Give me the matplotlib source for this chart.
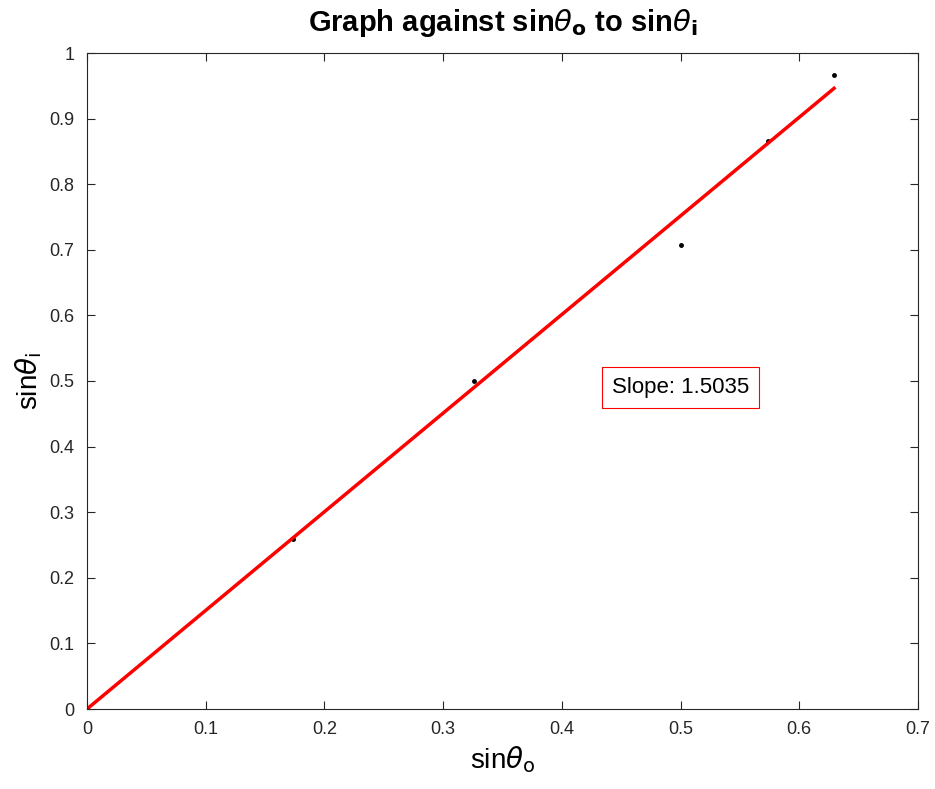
import matplotlib
matplotlib.use("Agg")
import matplotlib.pyplot as plt
import numpy as np

sin_o = np.array([0.0, 0.1736, 0.3256, 0.5000, 0.5736, 0.6293])
sin_i = np.array([0.0, 0.2588, 0.5000, 0.7071, 0.8660, 0.9659])
slope = 1.5035

plt.rcParams['font.family'] = ['Liberation Sans', 'DejaVu Sans']
plt.rcParams['mathtext.fontset'] = 'dejavusans'

fig = plt.figure(figsize=(9.35, 7.89), dpi=100)
ax = fig.add_axes([87/935, 1 - 709/789, (918-87)/935, (709-53)/789])

ax.plot(sin_o, sin_i, 'k.', markersize=5)
ax.plot(sin_o, slope * sin_o, color='red', linewidth=2.5)

ax.set_xlim(0, 0.7)
ax.set_ylim(0, 1)
ax.set_xticks(np.arange(0, 0.71, 0.1))
ax.set_xticklabels(['0', '0.1', '0.2', '0.3', '0.4', '0.5', '0.6', '0.7'])
ax.set_yticks(np.arange(0, 1.01, 0.1))
ax.set_yticklabels(['0', '0.1', '0.2', '0.3', '0.4', '0.5', '0.6', '0.7', '0.8', '0.9', '1'])
ax.tick_params(direction='in', top=True, right=True, labelsize=13, length=6,
               colors='#262626', pad=9)
for s in ax.spines.values():
    s.set_color('#262626')

ax.set_xlabel(r'sin$\theta_{\mathrm{o}}$', fontsize=20, labelpad=4)
ax.set_ylabel(r'sin$\theta_{\mathrm{i}}$', fontsize=20, labelpad=4)
ax.set_title(r'Graph against sin$\boldsymbol{\theta}_{\mathbf{o}}$ to sin$\boldsymbol{\theta}_{\mathbf{i}}$'
             if False else r'Graph against sin$\theta_{\mathbf{o}}$ to sin$\theta_{\mathbf{i}}$',
             fontsize=21, fontweight='bold', pad=16)

ax.text(0.5, 0.49, f'Slope: {slope:.4f}', fontsize=16, ha='center', va='center',
        bbox=dict(boxstyle='square,pad=0.45', facecolor='white', edgecolor='red', linewidth=0.8))

fig.savefig('out.png', dpi=100)
